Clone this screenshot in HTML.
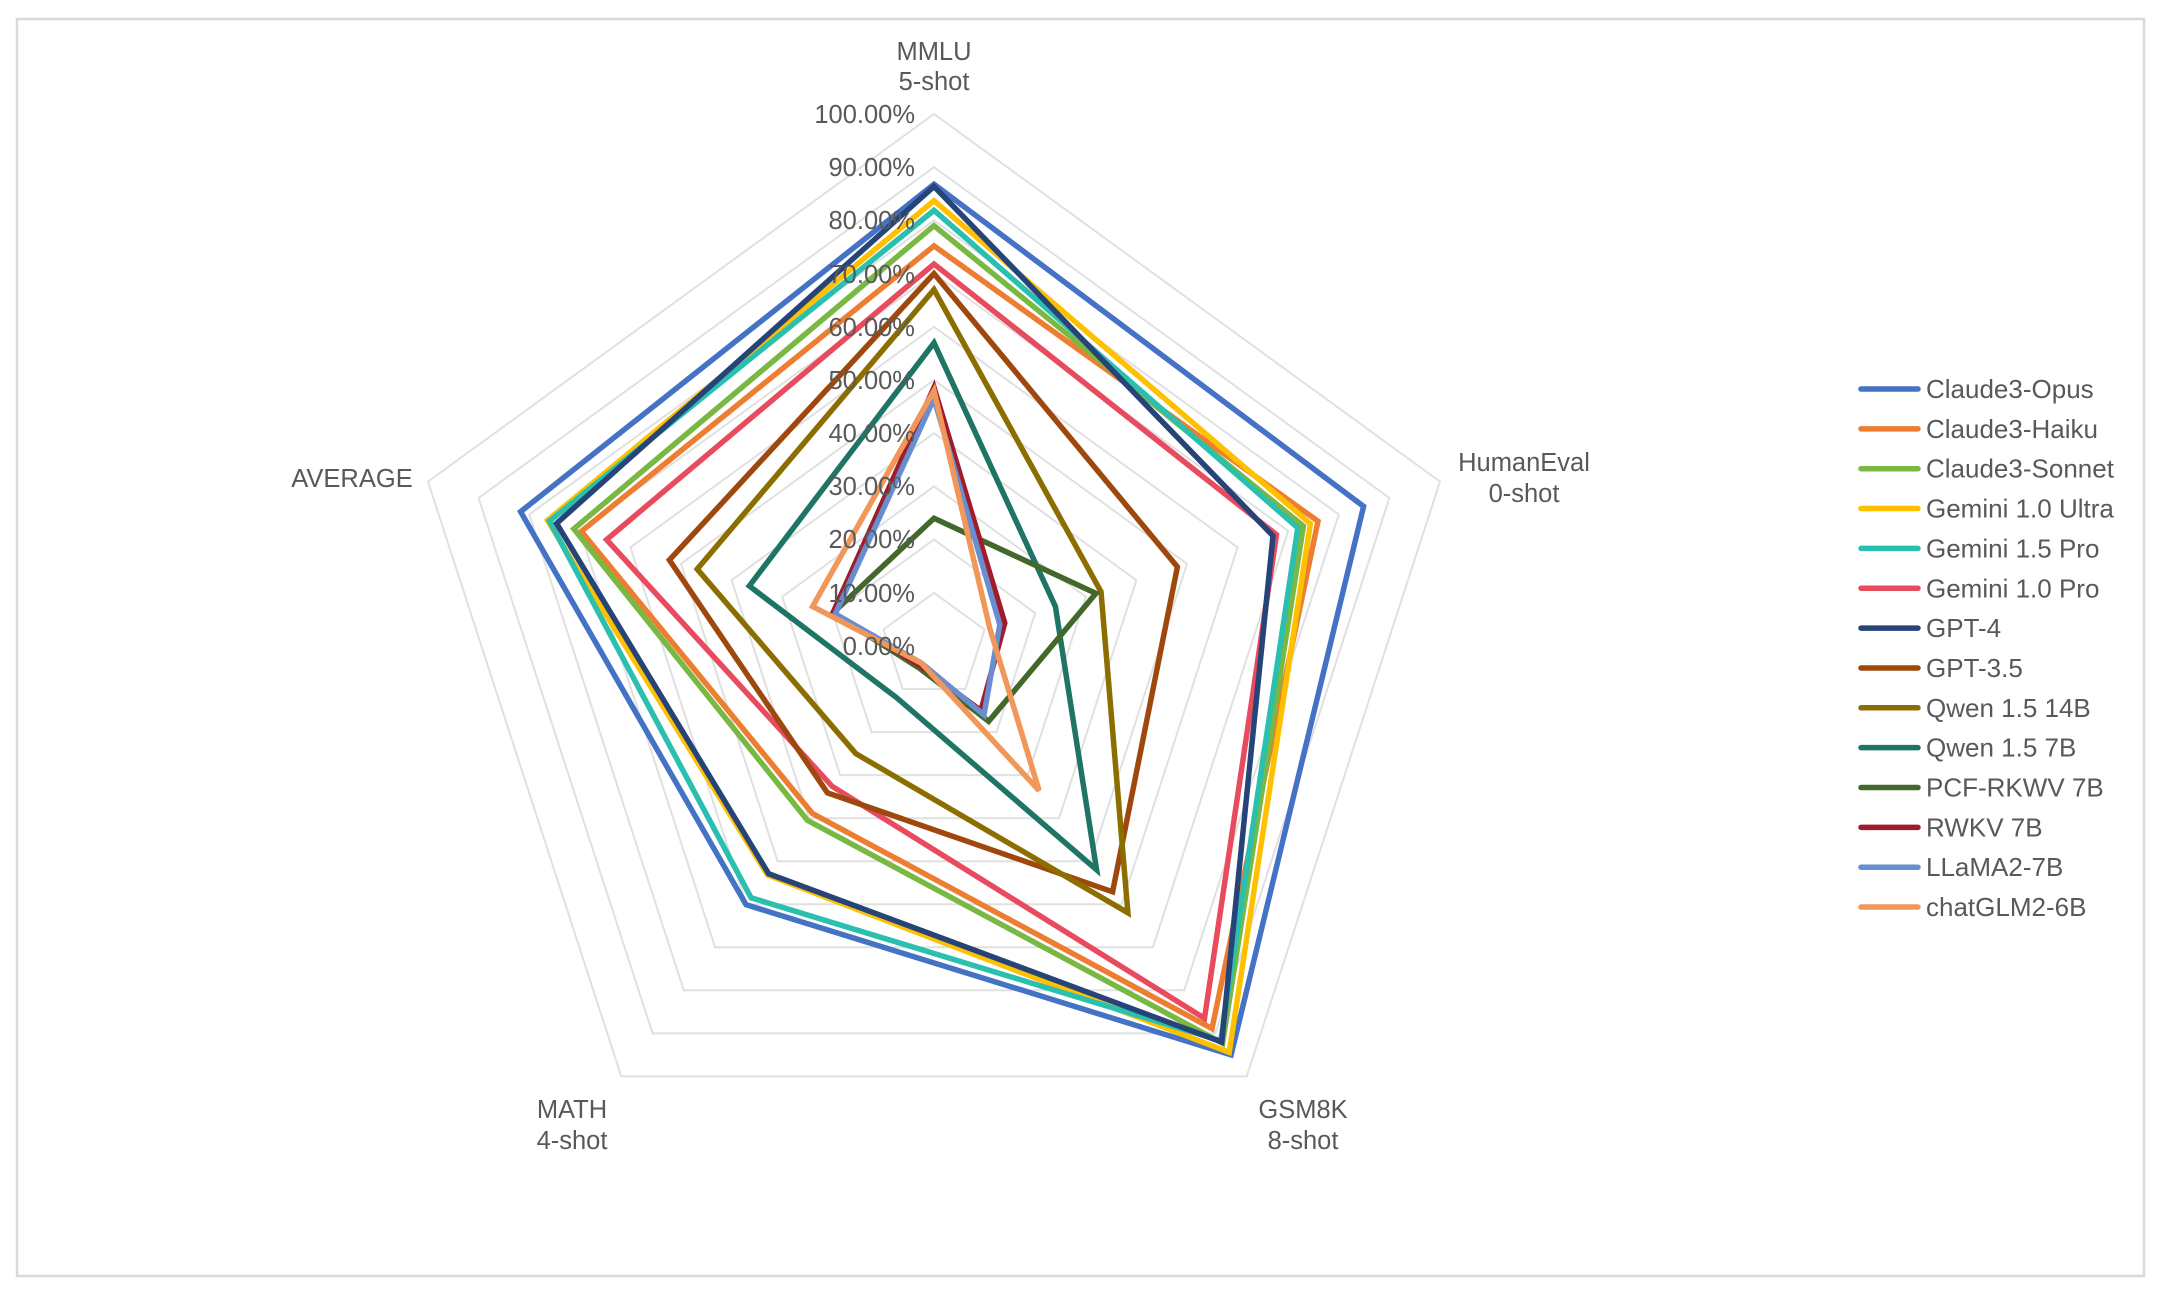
<!DOCTYPE html>
<html><head><meta charset="utf-8"><style>
html,body{margin:0;padding:0;background:#fff;}
svg{display:block;font-family:"Liberation Sans",sans-serif;}
</style></head><body>
<svg id="s" width="2162" height="1293" viewBox="0 0 2162 1293" xmlns="http://www.w3.org/2000/svg">
<rect x="17" y="19" width="2127" height="1257" fill="#fff" stroke="#d9d9d9" stroke-width="2.5"/>
<g id="grid" fill="none" stroke="#e0e0e0" stroke-width="2"></g>
<g id="series" fill="none" stroke-width="5.5" stroke-linejoin="miter"></g>
<g fill="#595959" font-size="25.5" text-anchor="end">
<text x="915" y="123">100.00%</text>
<text x="915" y="176">90.00%</text>
<text x="915" y="229">80.00%</text>
<text x="915" y="283">70.00%</text>
<text x="915" y="336">60.00%</text>
<text x="915" y="389">50.00%</text>
<text x="915" y="442">40.00%</text>
<text x="915" y="495">30.00%</text>
<text x="915" y="548">20.00%</text>
<text x="915" y="602">10.00%</text>
<text x="915" y="655">0.00%</text>
</g>
<g fill="#595959" font-size="25.5" text-anchor="middle">
<text x="934" y="60">MMLU</text><text x="934" y="90">5-shot</text>
<text x="1524" y="471">HumanEval</text><text x="1524" y="502">0-shot</text>
<text x="1303" y="1118">GSM8K</text><text x="1303" y="1149">8-shot</text>
<text x="572" y="1118">MATH</text><text x="572" y="1149">4-shot</text>
<text x="352" y="487">AVERAGE</text>
</g>
<g id="legend" font-size="26" fill="#595959"></g>
</svg>
<script>
var cx=934,cy=646,R=532,NS="http://www.w3.org/2000/svg";
var ang=[-90,-18,54,126,198].map(a=>a*Math.PI/180);
function pts(v){return v.map((x,i)=>(cx+R*x/100*Math.cos(ang[i])).toFixed(1)+","+(cy+R*x/100*Math.sin(ang[i])).toFixed(1)).join(" ");}
var g=document.getElementById("grid");
for(var k=1;k<=10;k++){var p=document.createElementNS(NS,"polygon");p.setAttribute("points",pts([k*10,k*10,k*10,k*10,k*10]));g.appendChild(p);}
var S=[
["Claude3-Opus","#4472C4",[86.8,84.9,95.0,60.1,81.7]],
["Claude3-Haiku","#ED7D31",[75.2,75.9,88.9,38.9,69.7]],
["Claude3-Sonnet","#78B843",[79.0,73.0,92.3,40.5,71.2]],
["Gemini 1.0 Ultra","#FFC000",[83.7,74.4,94.4,53.2,76.4]],
["Gemini 1.5 Pro","#2BBFB0",[81.9,71.9,91.7,58.5,76.0]],
["Gemini 1.0 Pro","#E84B5E",[71.8,67.7,86.5,32.6,64.7]],
["GPT-4","#264478",[86.4,67.0,92.0,52.9,74.6]],
["GPT-3.5","#9E480E",[70.0,48.1,57.1,34.1,52.3]],
["Qwen 1.5 14B","#8C6D00",[67.0,33.0,62.0,25.0,46.8]],
["Qwen 1.5 7B","#1E7566",[57.0,24.0,52.0,12.0,36.5]],
["PCF-RKWV 7B","#43682B",[24.0,32.0,17.5,5.0,20.0]],
["RWKV 7B","#9E1C2B",[48.6,14.0,15.0,4.5,20.0]],
["LLaMA2-7B","#698ED0",[46.5,13.0,16.0,4.0,19.5]],
["chatGLM2-6B","#F1975A",[48.0,11.0,33.6,4.0,24.0]]];
var sg=document.getElementById("series"),lg=document.getElementById("legend");
S.forEach(function(s,i){
var p=document.createElementNS(NS,"polygon");p.setAttribute("points",pts(s[2]));p.setAttribute("stroke",s[1]);sg.appendChild(p);
var y=389+i*39.85;
var l=document.createElementNS(NS,"line");l.setAttribute("x1",1861);l.setAttribute("x2",1918);l.setAttribute("y1",y);l.setAttribute("y2",y);l.setAttribute("stroke",s[1]);l.setAttribute("stroke-width",5.5);l.setAttribute("stroke-linecap","round");lg.appendChild(l);
var t=document.createElementNS(NS,"text");t.setAttribute("x",1926);t.setAttribute("y",y+9);t.textContent=s[0];lg.appendChild(t);
});
</script>
</body></html>
